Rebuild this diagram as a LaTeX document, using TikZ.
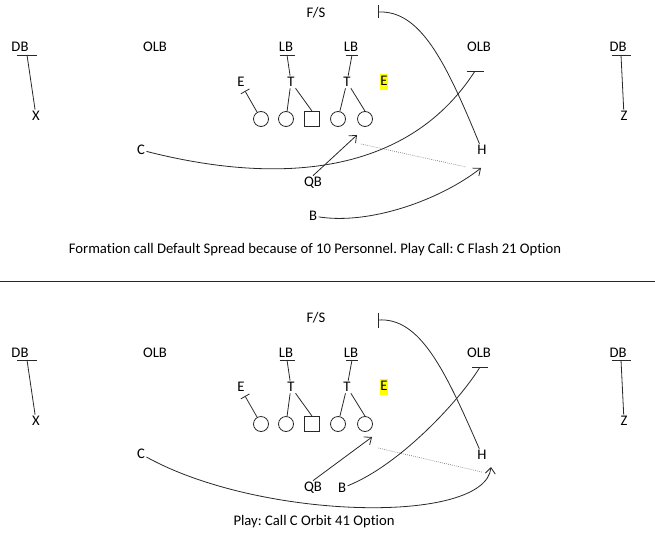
\documentclass[tikz,border=0pt]{standalone}
\usepackage{fontspec}
\setmainfont{Carlito}[Ligatures=NoCommon]
\usetikzlibrary{arrows.meta,positioning,calc}
\definecolor{lineblack}{RGB}{40,40,40}
\definecolor{hiliteyellow}{RGB}{255,255,0}
\frenchspacing

\begin{document}
\begin{tikzpicture}[x=0.75pt, y=-0.75pt,
        every node/.style={font=\fontsize{11}{13}\selectfont, inner sep=1pt},
        player/.style={circle, draw=lineblack, line width=0.6pt, minimum size=11.25pt, inner sep=0pt},
        snapper/.style={rectangle, draw=lineblack, line width=0.6pt, minimum size=11.25pt, inner sep=0pt},
        hilite/.style={fill=hiliteyellow, inner xsep=0.3pt, inner ysep=0pt, text height=8.6pt, text depth=3.2pt},
        route/.style={draw=lineblack, line width=0.6pt},
        arrow/.style={route, -{Straight Barb[length=4.5pt, width=7.5pt]}},
        read/.style={draw=lineblack!70, line width=0.5pt, densely dotted}
    ]
    \useasboundingbox (0,0) rectangle (655,535);

    % ---- Play 1 ----
    % Defense
    \node (fs1) at (316,13) {F/S};
    \node (dbl1) at (20,47) {DB};
    \node (olbl1) at (155,47) {OLB};
    \node (lbl1) at (286,47) {LB};
    \node (lbr1) at (351,47) {LB};
    \node (olbr1) at (479,47) {OLB};
    \node (dbr1) at (618,47) {DB};
    \node (el1) at (241,82) {E};
    \node (tl1) at (291,82) {T};
    \node (tr1) at (347,82) {T};
    \node[hilite] (er1) at (384,82) {E};

    % Offense
    \node[player] (p1a) at (261,119) {};
    \node[player] (p2a) at (286,119) {};
    \node[snapper] (p3a) at (312,119) {};
    \node[player] (p4a) at (338,119) {};
    \node[player] (p5a) at (365,119) {};
    \node (x1) at (36,116) {X};
    \node (z1) at (624,116) {Z};
    \node (c1) at (141,150) {C};
    \node (h1) at (482,150) {H};
    \node (qb1) at (313,183) {QB};
    \node (b1) at (313,216) {B};

    % Blocks
    \coordinate (dblk1) at (27,55);
    \coordinate (lblk1) at (287,55);
    \coordinate (rblk1) at (352,55);
    \coordinate (oblk1) at (475,71);
    \coordinate (zblk1) at (621,55);
    \coordinate (sblk1) at (378,12);
    \coordinate (eblk1) at (245,91);
    \draw[route] (dblk1) +(-10,0) -- +(10,0);
    \draw[route] (lblk1) +(-7.5,0) -- +(7.5,0);
    \draw[route] (rblk1) +(-6,0) -- +(6,0);
    \draw[route] (oblk1) +(-8.5,0) -- +(8.5,0);
    \draw[route] (zblk1) +(-9.5,0) -- +(9.5,0);
    \draw[route] (sblk1) +(0,-6.5) -- +(0,6.5);
    \draw[route, {Bar[width=7.5pt]}-] (eblk1) -- (p1a);

    % Assignments
    \draw[route] (dblk1) -- (x1);
    \draw[route] (zblk1) -- (z1);
    \draw[route] (lblk1) -- (tl1);
    \draw[route] (rblk1) -- (tr1);
    \draw[route] (tl1) -- (p2a);
    \draw[route] (tl1) -- (p3a.north);
    \draw[route] (tr1) -- (p4a);
    \draw[route] (tr1) -- (p5a.north);
    \draw[route] (sblk1) .. controls (420,10) and (445,60) .. (h1);
    \draw[route] (c1) .. controls (270,183) and (405,180) .. (oblk1);

    % Option reads
    \coordinate (qbtip1) at (357,135);
    \coordinate (btip1) at (481,168);
    \coordinate (rd1a) at (361,144);
    \coordinate (rd1b) at (466,167);
    \draw[arrow] (qb1.north) -- (qbtip1);
    \draw[arrow] (b1) .. controls (370,225) and (440,200) .. (btip1);
    \draw[read] (rd1a) -- (rd1b);

    \node (cap1) at (315,250) {Formation call Default Spread because of 10 Personnel. Play Call: C Flash 21 Option};

    % Divider
    \coordinate (divl) at (0,281);
    \coordinate (divr) at (655,281);
    \draw[route] (divl) -- (divr);

    % ---- Play 2 ----
    % Defense
    \node (fs2) at (316,318) {F/S};
    \node (dbl2) at (20,353) {DB};
    \node (olbl2) at (155,353) {OLB};
    \node (lbl2) at (286,353) {LB};
    \node (lbr2) at (351,353) {LB};
    \node (olbr2) at (479,353) {OLB};
    \node (dbr2) at (618,353) {DB};
    \node (el2) at (241,387) {E};
    \node (tl2) at (291,387) {T};
    \node (tr2) at (347,387) {T};
    \node[hilite] (er2) at (384,387) {E};

    % Offense
    \node[player] (p1b) at (261,424) {};
    \node[player] (p2b) at (286,424) {};
    \node[snapper] (p3b) at (312,424) {};
    \node[player] (p4b) at (338,424) {};
    \node[player] (p5b) at (365,424) {};
    \node (x2) at (36,421) {X};
    \node (z2) at (624,421) {Z};
    \node (c2) at (141,454) {C};
    \node (h2) at (482,455) {H};
    \node (qb2) at (313,488) {QB};
    \node (b2) at (342,488) {B};

    % Blocks
    \coordinate (dblk2) at (27,360);
    \coordinate (lblk2) at (287,360);
    \coordinate (rblk2) at (352,360);
    \coordinate (oblk2) at (480,367);
    \coordinate (zblk2) at (621,360);
    \coordinate (sblk2) at (378,320);
    \coordinate (eblk2) at (245,396);
    \draw[route] (dblk2) +(-10,0) -- +(10,0);
    \draw[route] (lblk2) +(-7.5,0) -- +(7.5,0);
    \draw[route] (rblk2) +(-6,0) -- +(6,0);
    \draw[route] (oblk2) +(-8,0) -- +(8,0);
    \draw[route] (zblk2) +(-9.5,0) -- +(9.5,0);
    \draw[route] (sblk2) +(0,-7.5) -- +(0,7.5);
    \draw[route, {Bar[width=7.5pt]}-] (eblk2) -- (p1b);

    % Assignments
    \draw[route] (dblk2) -- (x2);
    \draw[route] (zblk2) -- (z2);
    \draw[route] (lblk2) -- (tl2);
    \draw[route] (rblk2) -- (tr2);
    \draw[route] (tl2) -- (p2b);
    \draw[route] (tl2) -- (p3b.north);
    \draw[route] (tr2) -- (p4b);
    \draw[route] (tr2) -- (p5b.north);
    \draw[route] (sblk2) .. controls (420,317) and (445,370) .. (h2);
    \draw[route] (b2) .. controls (400,465) and (460,400) .. (oblk2);

    % Option reads
    \coordinate (qbtip2) at (372,437);
    \coordinate (ctip2) at (491,467);
    \coordinate (rd2a) at (378,448);
    \coordinate (rd2b) at (482,472);
    \draw[arrow] (qb2.north) -- (qbtip2);
    \draw[arrow] (c2) .. controls (260,520) and (485,525) .. (ctip2);
    \draw[read] (rd2a) -- (rd2b);

    \node (cap2) at (314,522) {Play: Call C Orbit 41 Option};
\end{tikzpicture}
\end{document}
